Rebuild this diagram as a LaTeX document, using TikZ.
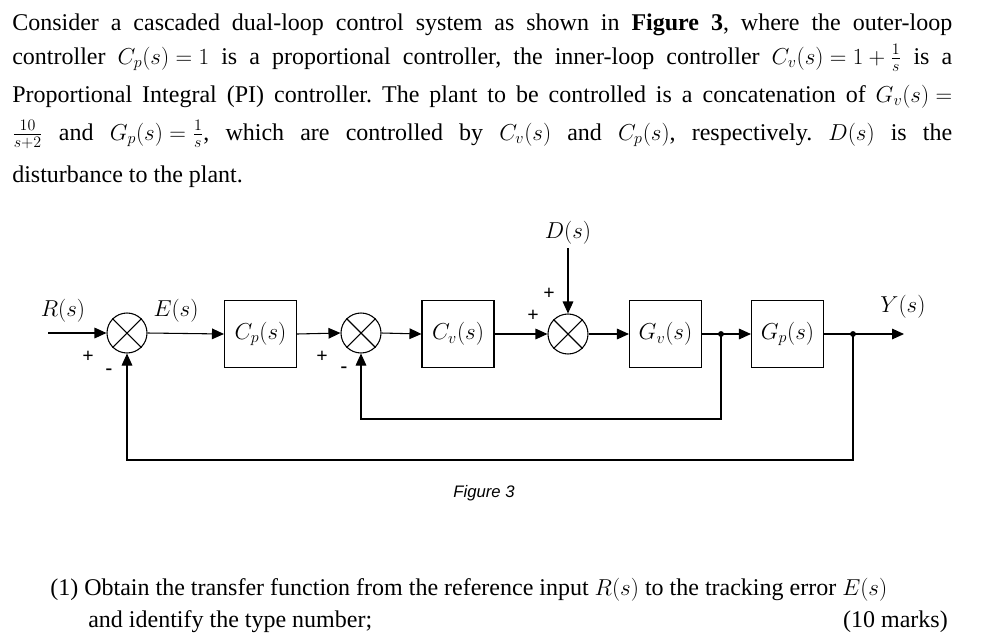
\documentclass[tikz,border=0pt]{standalone}
\usepackage{amsmath}
\usepackage{fontspec}
\setmainfont{Liberation Serif}
\newfontfamily\sansf{Liberation Sans}
\usetikzlibrary{arrows.meta}
\newcommand{\mm}[1]{\mbox{$#1$}}
\frenchspacing
\begin{document}
\begin{tikzpicture}[x=0.75pt,y=-0.75pt,
  txt/.style={anchor=base west,inner sep=0,font=\fontsize{18}{20}\selectfont},
  blk/.style={draw,thick,minimum width=54pt,minimum height=50pt,inner sep=0,font=\fontsize{17}{18}\selectfont},
  sum/.style={draw,thick,circle,minimum size=30pt,inner sep=0},
  lab/.style={inner sep=0,font=\fontsize{17}{18}\selectfont},
  pm/.style={inner sep=0,font=\bfseries\fontsize{15}{16}\selectfont},
  sig/.style={thick,-{Triangle[length=9pt,width=8pt]}},
  ln/.style={thick}]
\useasboundingbox (0,0) rectangle (1004,640);
% text
\node[txt] (l1) at (12,30) {\makebox[705pt][s]{Consider a cascaded dual-loop control system as shown in \textbf{Figure 3}, where the outer-loop}};
\node[txt] (l2) at (12,64) {\makebox[705pt][s]{controller \mm{C_p(s)=1} is a proportional controller, the inner-loop controller \mm{C_v(s)=1+\frac{1}{s}} is a}};
\node[txt] (l3) at (12,102) {\makebox[705pt][s]{Proportional Integral (PI) controller. The plant to be controlled is a concatenation of \mm{G_v(s)=}}};
\node[txt] (l4) at (12,140) {\makebox[705pt][s]{\mm{\frac{10}{s+2}} and \mm{G_p(s)=\frac{1}{s}}, which are controlled by \mm{C_v(s)} and \mm{C_p(s)}, respectively. \mm{D(s)} is the}};
\node[txt] (l5) at (12,182) {disturbance to the plant.};
% blocks
\node[sum] (s1) at (127,333) {};
\node[blk] (cp) at (260.5,334) {$C_p(s)$};
\node[sum] (s2) at (361,333) {};
\node[blk] (cv) at (458,334) {$C_v(s)$};
\node[sum] (s3) at (568,334) {};
\node[blk] (gv) at (665.5,334) {$G_v(s)$};
\node[blk] (gp) at (787.5,334) {$G_p(s)$};
\foreach \s in {s1,s2,s3}{
  \draw[thick] (\s.north west) -- (\s.south east) (\s.north east) -- (\s.south west);}
\coordinate (in) at (48,333);
\coordinate (dtop) at (568,248);
\coordinate (j1) at (721,334);
\coordinate (j2) at (853,334);
\coordinate (out) at (904,334);
\coordinate (f1a) at (721,419); \coordinate (f1b) at (361,419);
\coordinate (f2a) at (853,460); \coordinate (f2b) at (127,460);
\fill (j1) circle (2.2pt) (j2) circle (2.2pt);
\draw[sig] (in) -- (s1.west);
\draw[sig] (s1.east) -- (cp.west);
\draw[sig] (cp.east) -- (s2.west);
\draw[sig] (s2.east) -- (cv.west);
\draw[sig] (cv.east) -- (s3.west);
\draw[sig] (dtop) -- (s3.north);
\draw[sig] (s3.east) -- (gv.west);
\draw[sig] (gv.east) -- (gp.west);
\draw[sig] (gp.east) -- (out);
\draw[sig] (j1) -- (f1a) -- (f1b) -- (s2.south);
\draw[sig] (j2) -- (f2a) -- (f2b) -- (s1.south);
% labels
\node[lab] (R) at (63,311) {$R(s)$};
\node[lab] (E) at (176,311) {$E(s)$};
\node[lab] (D) at (568,233) {$D(s)$};
\node[lab] (Y) at (903,307) {$Y(s)$};
\node[pm] (p1) at (88,357) {+};
\node[pm] (m1) at (109,372) {-};
\node[pm] (p2) at (322,357) {+};
\node[pm] (m2) at (344,370) {-};
\node[pm] (p3) at (549,294) {+};
\node[pm] (p4) at (533,316) {+};
\node[inner sep=0,font=\sansf\itshape\fontsize{12.5}{14}\selectfont] (fig) at (484,493) {Figure 3};
% question
\node[txt] (q1) at (50,595) {(1) Obtain the transfer function from the reference input $R(s)$ to the tracking error $E(s)$};
\node[txt] (q2) at (88,627) {and identify the type number;};
\node[txt,anchor=base east] (q3) at (948,627) {(10 marks)};
\end{tikzpicture}
\end{document}
